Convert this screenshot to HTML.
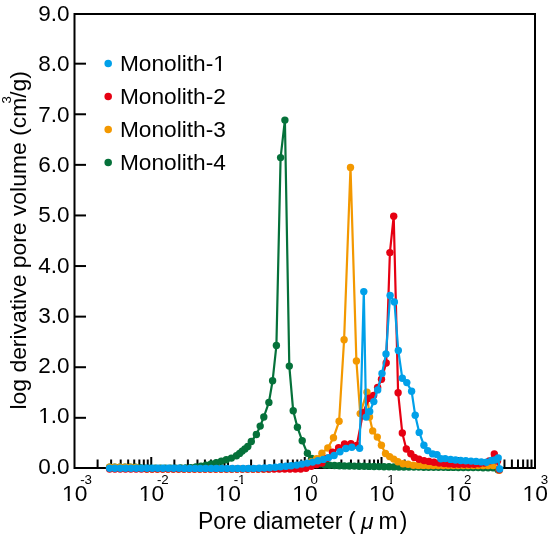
<!DOCTYPE html>
<html><head><meta charset="utf-8"><title>Pore size distribution</title>
<style>html,body{margin:0;padding:0;background:#fff;overflow:hidden}svg{display:block}</style>
</head><body>
<svg width="550" height="536" viewBox="0 0 550 536">
<style>
.t{font-family:"Liberation Sans",Arial,sans-serif;font-size:22.5px;fill:#000}
.ti{font-family:"Liberation Sans",Arial,sans-serif;font-size:23px;fill:#000}
.ty{font-family:"Liberation Sans",Arial,sans-serif;font-size:22.9px;fill:#000}
.tx{font-family:"Liberation Sans",Arial,sans-serif;font-size:22.8px;fill:#000}
.tl{font-family:"Liberation Sans",Arial,sans-serif;font-size:22.7px;fill:#000}
.s{font-family:"Liberation Sans",Arial,sans-serif;font-size:13.3px;fill:#000}
.mu{font-style:italic}
</style>
<rect width="550" height="536" fill="#fff"/>
<rect x="74.5" y="14.0" width="460.5" height="454.0" fill="none" stroke="#000" stroke-width="2"/>
<line x1="74.5" y1="417.81" x2="86.0" y2="417.81" stroke="#000" stroke-width="2"/>
<line x1="74.5" y1="367.22" x2="86.0" y2="367.22" stroke="#000" stroke-width="2"/>
<line x1="74.5" y1="316.63" x2="86.0" y2="316.63" stroke="#000" stroke-width="2"/>
<line x1="74.5" y1="266.04" x2="86.0" y2="266.04" stroke="#000" stroke-width="2"/>
<line x1="74.5" y1="215.45" x2="86.0" y2="215.45" stroke="#000" stroke-width="2"/>
<line x1="74.5" y1="164.86" x2="86.0" y2="164.86" stroke="#000" stroke-width="2"/>
<line x1="74.5" y1="114.27" x2="86.0" y2="114.27" stroke="#000" stroke-width="2"/>
<line x1="74.5" y1="63.68" x2="86.0" y2="63.68" stroke="#000" stroke-width="2"/>
<line x1="97.60" y1="468.0" x2="97.60" y2="459.5" stroke="#000" stroke-width="2"/>
<line x1="111.12" y1="468.0" x2="111.12" y2="459.5" stroke="#000" stroke-width="2"/>
<line x1="120.71" y1="468.0" x2="120.71" y2="459.5" stroke="#000" stroke-width="2"/>
<line x1="128.15" y1="468.0" x2="128.15" y2="459.5" stroke="#000" stroke-width="2"/>
<line x1="134.22" y1="468.0" x2="134.22" y2="459.5" stroke="#000" stroke-width="2"/>
<line x1="139.36" y1="468.0" x2="139.36" y2="459.5" stroke="#000" stroke-width="2"/>
<line x1="143.81" y1="468.0" x2="143.81" y2="459.5" stroke="#000" stroke-width="2"/>
<line x1="147.74" y1="468.0" x2="147.74" y2="459.5" stroke="#000" stroke-width="2"/>
<line x1="151.25" y1="468.0" x2="151.25" y2="457.0" stroke="#000" stroke-width="2"/>
<line x1="174.35" y1="468.0" x2="174.35" y2="459.5" stroke="#000" stroke-width="2"/>
<line x1="187.87" y1="468.0" x2="187.87" y2="459.5" stroke="#000" stroke-width="2"/>
<line x1="197.46" y1="468.0" x2="197.46" y2="459.5" stroke="#000" stroke-width="2"/>
<line x1="204.90" y1="468.0" x2="204.90" y2="459.5" stroke="#000" stroke-width="2"/>
<line x1="210.97" y1="468.0" x2="210.97" y2="459.5" stroke="#000" stroke-width="2"/>
<line x1="216.11" y1="468.0" x2="216.11" y2="459.5" stroke="#000" stroke-width="2"/>
<line x1="220.56" y1="468.0" x2="220.56" y2="459.5" stroke="#000" stroke-width="2"/>
<line x1="224.49" y1="468.0" x2="224.49" y2="459.5" stroke="#000" stroke-width="2"/>
<line x1="228.00" y1="468.0" x2="228.00" y2="457.0" stroke="#000" stroke-width="2"/>
<line x1="251.10" y1="468.0" x2="251.10" y2="459.5" stroke="#000" stroke-width="2"/>
<line x1="264.62" y1="468.0" x2="264.62" y2="459.5" stroke="#000" stroke-width="2"/>
<line x1="274.21" y1="468.0" x2="274.21" y2="459.5" stroke="#000" stroke-width="2"/>
<line x1="281.65" y1="468.0" x2="281.65" y2="459.5" stroke="#000" stroke-width="2"/>
<line x1="287.72" y1="468.0" x2="287.72" y2="459.5" stroke="#000" stroke-width="2"/>
<line x1="292.86" y1="468.0" x2="292.86" y2="459.5" stroke="#000" stroke-width="2"/>
<line x1="297.31" y1="468.0" x2="297.31" y2="459.5" stroke="#000" stroke-width="2"/>
<line x1="301.24" y1="468.0" x2="301.24" y2="459.5" stroke="#000" stroke-width="2"/>
<line x1="304.75" y1="468.0" x2="304.75" y2="457.0" stroke="#000" stroke-width="2"/>
<line x1="327.85" y1="468.0" x2="327.85" y2="459.5" stroke="#000" stroke-width="2"/>
<line x1="341.37" y1="468.0" x2="341.37" y2="459.5" stroke="#000" stroke-width="2"/>
<line x1="350.96" y1="468.0" x2="350.96" y2="459.5" stroke="#000" stroke-width="2"/>
<line x1="358.40" y1="468.0" x2="358.40" y2="459.5" stroke="#000" stroke-width="2"/>
<line x1="364.47" y1="468.0" x2="364.47" y2="459.5" stroke="#000" stroke-width="2"/>
<line x1="369.61" y1="468.0" x2="369.61" y2="459.5" stroke="#000" stroke-width="2"/>
<line x1="374.06" y1="468.0" x2="374.06" y2="459.5" stroke="#000" stroke-width="2"/>
<line x1="377.99" y1="468.0" x2="377.99" y2="459.5" stroke="#000" stroke-width="2"/>
<line x1="381.50" y1="468.0" x2="381.50" y2="457.0" stroke="#000" stroke-width="2"/>
<line x1="404.60" y1="468.0" x2="404.60" y2="459.5" stroke="#000" stroke-width="2"/>
<line x1="418.12" y1="468.0" x2="418.12" y2="459.5" stroke="#000" stroke-width="2"/>
<line x1="427.71" y1="468.0" x2="427.71" y2="459.5" stroke="#000" stroke-width="2"/>
<line x1="435.15" y1="468.0" x2="435.15" y2="459.5" stroke="#000" stroke-width="2"/>
<line x1="441.22" y1="468.0" x2="441.22" y2="459.5" stroke="#000" stroke-width="2"/>
<line x1="446.36" y1="468.0" x2="446.36" y2="459.5" stroke="#000" stroke-width="2"/>
<line x1="450.81" y1="468.0" x2="450.81" y2="459.5" stroke="#000" stroke-width="2"/>
<line x1="454.74" y1="468.0" x2="454.74" y2="459.5" stroke="#000" stroke-width="2"/>
<line x1="458.25" y1="468.0" x2="458.25" y2="457.0" stroke="#000" stroke-width="2"/>
<line x1="481.35" y1="468.0" x2="481.35" y2="459.5" stroke="#000" stroke-width="2"/>
<line x1="494.87" y1="468.0" x2="494.87" y2="459.5" stroke="#000" stroke-width="2"/>
<line x1="504.46" y1="468.0" x2="504.46" y2="459.5" stroke="#000" stroke-width="2"/>
<line x1="511.90" y1="468.0" x2="511.90" y2="459.5" stroke="#000" stroke-width="2"/>
<line x1="517.97" y1="468.0" x2="517.97" y2="459.5" stroke="#000" stroke-width="2"/>
<line x1="523.11" y1="468.0" x2="523.11" y2="459.5" stroke="#000" stroke-width="2"/>
<line x1="527.56" y1="468.0" x2="527.56" y2="459.5" stroke="#000" stroke-width="2"/>
<line x1="531.49" y1="468.0" x2="531.49" y2="459.5" stroke="#000" stroke-width="2"/>
<line x1="535.00" y1="468.0" x2="535.00" y2="457.0" stroke="#000" stroke-width="2"/>
<path d="M109.6,467.2 L114.7,467.2 L119.8,467.2 L124.8,467.3 L129.9,467.3 L135.0,467.3 L140.1,467.8 L145.1,468.2 L150.2,468.2 L155.3,468.2 L160.4,468.1 L165.4,468.1 L170.5,468.1 L175.6,468.1 L180.7,468.0 L185.7,468.0 L190.8,467.6 L195.9,466.9 L201.0,466.3 L206.0,465.1 L211.1,463.9 L216.2,462.7 L221.3,461.2 L226.3,459.7 L231.4,458.1 L236.5,455.8 L239.6,453.4 L242.2,451.1 L244.9,448.9 L247.8,446.5 L251.3,441.5 L256.4,434.5 L260.2,426.1 L263.8,417.0 L268.9,402.4 L272.6,380.8 L276.4,345.5 L280.6,157.6 L284.9,120.1 L289.3,366.1 L293.2,410.8 L297.4,427.2 L302.2,440.8 L307.4,453.3 L311.6,458.5 L316.0,461.8 L320.5,463.8 L325.0,465.0 L329.5,465.2 L334.5,465.5 L339.4,465.8 L344.4,465.9 L349.3,466.0 L354.3,466.1 L359.2,466.2 L364.2,466.3 L369.1,466.4 L374.1,466.5 L379.1,466.6 L384.0,466.7 L389.0,466.8 L393.9,466.9 L398.9,467.0 L403.8,467.0 L408.8,467.1 L413.8,467.1 L418.7,467.1 L423.7,467.2 L428.6,467.2 L433.6,467.3 L438.5,467.3 L443.5,467.3 L448.4,467.4 L453.4,467.4 L458.4,467.5 L463.3,467.5 L468.3,467.5 L473.2,467.6 L478.2,467.6 L483.1,467.7 L488.1,467.7 L493.0,467.7 L498.0,469.8" fill="none" stroke="#05713a" stroke-width="2.2" stroke-linejoin="round"/>
<g fill="#05713a"><circle cx="109.6" cy="467.2" r="3.7"/><circle cx="114.7" cy="467.2" r="3.7"/><circle cx="119.8" cy="467.2" r="3.7"/><circle cx="124.8" cy="467.3" r="3.7"/><circle cx="129.9" cy="467.3" r="3.7"/><circle cx="135.0" cy="467.3" r="3.7"/><circle cx="140.1" cy="467.8" r="3.7"/><circle cx="145.1" cy="468.2" r="3.7"/><circle cx="150.2" cy="468.2" r="3.7"/><circle cx="155.3" cy="468.2" r="3.7"/><circle cx="160.4" cy="468.1" r="3.7"/><circle cx="165.4" cy="468.1" r="3.7"/><circle cx="170.5" cy="468.1" r="3.7"/><circle cx="175.6" cy="468.1" r="3.7"/><circle cx="180.7" cy="468.0" r="3.7"/><circle cx="185.7" cy="468.0" r="3.7"/><circle cx="190.8" cy="467.6" r="3.7"/><circle cx="195.9" cy="466.9" r="3.7"/><circle cx="201.0" cy="466.3" r="3.7"/><circle cx="206.0" cy="465.1" r="3.7"/><circle cx="211.1" cy="463.9" r="3.7"/><circle cx="216.2" cy="462.7" r="3.7"/><circle cx="221.3" cy="461.2" r="3.7"/><circle cx="226.3" cy="459.7" r="3.7"/><circle cx="231.4" cy="458.1" r="3.7"/><circle cx="236.5" cy="455.8" r="3.7"/><circle cx="239.6" cy="453.4" r="3.7"/><circle cx="242.2" cy="451.1" r="3.7"/><circle cx="244.9" cy="448.9" r="3.7"/><circle cx="247.8" cy="446.5" r="3.7"/><circle cx="251.3" cy="441.5" r="3.7"/><circle cx="256.4" cy="434.5" r="3.7"/><circle cx="260.2" cy="426.1" r="3.7"/><circle cx="263.8" cy="417.0" r="3.7"/><circle cx="268.9" cy="402.4" r="3.7"/><circle cx="272.6" cy="380.8" r="3.7"/><circle cx="276.4" cy="345.5" r="3.7"/><circle cx="280.6" cy="157.6" r="3.7"/><circle cx="284.9" cy="120.1" r="3.7"/><circle cx="289.3" cy="366.1" r="3.7"/><circle cx="293.2" cy="410.8" r="3.7"/><circle cx="297.4" cy="427.2" r="3.7"/><circle cx="302.2" cy="440.8" r="3.7"/><circle cx="307.4" cy="453.3" r="3.7"/><circle cx="311.6" cy="458.5" r="3.7"/><circle cx="316.0" cy="461.8" r="3.7"/><circle cx="320.5" cy="463.8" r="3.7"/><circle cx="325.0" cy="465.0" r="3.7"/><circle cx="329.5" cy="465.2" r="3.7"/><circle cx="334.5" cy="465.5" r="3.7"/><circle cx="339.4" cy="465.8" r="3.7"/><circle cx="344.4" cy="465.9" r="3.7"/><circle cx="349.3" cy="466.0" r="3.7"/><circle cx="354.3" cy="466.1" r="3.7"/><circle cx="359.2" cy="466.2" r="3.7"/><circle cx="364.2" cy="466.3" r="3.7"/><circle cx="369.1" cy="466.4" r="3.7"/><circle cx="374.1" cy="466.5" r="3.7"/><circle cx="379.1" cy="466.6" r="3.7"/><circle cx="384.0" cy="466.7" r="3.7"/><circle cx="389.0" cy="466.8" r="3.7"/><circle cx="393.9" cy="466.9" r="3.7"/><circle cx="398.9" cy="467.0" r="3.7"/><circle cx="403.8" cy="467.0" r="3.7"/><circle cx="408.8" cy="467.1" r="3.7"/><circle cx="413.8" cy="467.1" r="3.7"/><circle cx="418.7" cy="467.1" r="3.7"/><circle cx="423.7" cy="467.2" r="3.7"/><circle cx="428.6" cy="467.2" r="3.7"/><circle cx="433.6" cy="467.3" r="3.7"/><circle cx="438.5" cy="467.3" r="3.7"/><circle cx="443.5" cy="467.3" r="3.7"/><circle cx="448.4" cy="467.4" r="3.7"/><circle cx="453.4" cy="467.4" r="3.7"/><circle cx="458.4" cy="467.5" r="3.7"/><circle cx="463.3" cy="467.5" r="3.7"/><circle cx="468.3" cy="467.5" r="3.7"/><circle cx="473.2" cy="467.6" r="3.7"/><circle cx="478.2" cy="467.6" r="3.7"/><circle cx="483.1" cy="467.7" r="3.7"/><circle cx="488.1" cy="467.7" r="3.7"/><circle cx="493.0" cy="467.7" r="3.7"/><circle cx="498.0" cy="469.8" r="3.7"/></g>

<path d="M109.6,467.2 L114.9,467.2 L120.2,467.2 L125.5,467.3 L130.8,467.3 L136.1,467.5 L141.4,468.4 L146.8,469.0 L152.1,469.0 L157.4,469.0 L162.7,469.0 L168.0,469.0 L173.3,469.0 L178.6,469.0 L183.9,469.0 L189.2,469.0 L194.5,469.0 L199.8,469.0 L205.1,469.0 L210.4,469.0 L215.8,469.0 L221.1,469.0 L226.4,469.0 L231.7,469.0 L237.0,469.0 L242.3,469.0 L247.6,469.0 L252.9,469.0 L258.2,469.0 L263.5,469.0 L268.8,469.0 L274.1,468.5 L279.4,467.9 L284.8,467.3 L290.1,466.8 L295.4,466.2 L300.7,465.4 L306.0,463.9 L311.3,461.6 L316.6,458.6 L321.9,453.3 L327.8,448.0 L333.5,437.7 L339.1,421.3 L344.1,339.8 L350.5,167.4 L356.4,360.9 L360.2,413.6 L367.0,392.2 L369.5,417.0 L372.7,430.9 L377.3,437.1 L381.4,445.3 L385.5,453.5 L389.6,456.6 L393.7,459.1 L397.9,461.7 L403.0,463.8 L408.1,464.3 L413.3,465.3 L418.3,465.4 L423.3,465.4 L428.3,465.5 L433.2,465.5 L438.2,465.5 L443.2,465.5 L448.2,465.5 L453.2,465.5 L458.1,465.5 L463.1,465.5 L468.1,465.5 L473.1,465.5 L478.1,465.5 L483.1,465.5 L488.0,465.5 L493.0,465.5 L499.3,470.2" fill="none" stroke="#f39800" stroke-width="2.2" stroke-linejoin="round"/>
<g fill="#f39800"><circle cx="109.6" cy="467.2" r="3.7"/><circle cx="114.9" cy="467.2" r="3.7"/><circle cx="120.2" cy="467.2" r="3.7"/><circle cx="125.5" cy="467.3" r="3.7"/><circle cx="130.8" cy="467.3" r="3.7"/><circle cx="136.1" cy="467.5" r="3.7"/><circle cx="141.4" cy="468.4" r="3.7"/><circle cx="146.8" cy="469.0" r="3.7"/><circle cx="152.1" cy="469.0" r="3.7"/><circle cx="157.4" cy="469.0" r="3.7"/><circle cx="162.7" cy="469.0" r="3.7"/><circle cx="168.0" cy="469.0" r="3.7"/><circle cx="173.3" cy="469.0" r="3.7"/><circle cx="178.6" cy="469.0" r="3.7"/><circle cx="183.9" cy="469.0" r="3.7"/><circle cx="189.2" cy="469.0" r="3.7"/><circle cx="194.5" cy="469.0" r="3.7"/><circle cx="199.8" cy="469.0" r="3.7"/><circle cx="205.1" cy="469.0" r="3.7"/><circle cx="210.4" cy="469.0" r="3.7"/><circle cx="215.8" cy="469.0" r="3.7"/><circle cx="221.1" cy="469.0" r="3.7"/><circle cx="226.4" cy="469.0" r="3.7"/><circle cx="231.7" cy="469.0" r="3.7"/><circle cx="237.0" cy="469.0" r="3.7"/><circle cx="242.3" cy="469.0" r="3.7"/><circle cx="247.6" cy="469.0" r="3.7"/><circle cx="252.9" cy="469.0" r="3.7"/><circle cx="258.2" cy="469.0" r="3.7"/><circle cx="263.5" cy="469.0" r="3.7"/><circle cx="268.8" cy="469.0" r="3.7"/><circle cx="274.1" cy="468.5" r="3.7"/><circle cx="279.4" cy="467.9" r="3.7"/><circle cx="284.8" cy="467.3" r="3.7"/><circle cx="290.1" cy="466.8" r="3.7"/><circle cx="295.4" cy="466.2" r="3.7"/><circle cx="300.7" cy="465.4" r="3.7"/><circle cx="306.0" cy="463.9" r="3.7"/><circle cx="311.3" cy="461.6" r="3.7"/><circle cx="316.6" cy="458.6" r="3.7"/><circle cx="321.9" cy="453.3" r="3.7"/><circle cx="327.8" cy="448.0" r="3.7"/><circle cx="333.5" cy="437.7" r="3.7"/><circle cx="339.1" cy="421.3" r="3.7"/><circle cx="344.1" cy="339.8" r="3.7"/><circle cx="350.5" cy="167.4" r="3.7"/><circle cx="356.4" cy="360.9" r="3.7"/><circle cx="360.2" cy="413.6" r="3.7"/><circle cx="367.0" cy="392.2" r="3.7"/><circle cx="369.5" cy="417.0" r="3.7"/><circle cx="372.7" cy="430.9" r="3.7"/><circle cx="377.3" cy="437.1" r="3.7"/><circle cx="381.4" cy="445.3" r="3.7"/><circle cx="385.5" cy="453.5" r="3.7"/><circle cx="389.6" cy="456.6" r="3.7"/><circle cx="393.7" cy="459.1" r="3.7"/><circle cx="397.9" cy="461.7" r="3.7"/><circle cx="403.0" cy="463.8" r="3.7"/><circle cx="408.1" cy="464.3" r="3.7"/><circle cx="413.3" cy="465.3" r="3.7"/><circle cx="418.3" cy="465.4" r="3.7"/><circle cx="423.3" cy="465.4" r="3.7"/><circle cx="428.3" cy="465.5" r="3.7"/><circle cx="433.2" cy="465.5" r="3.7"/><circle cx="438.2" cy="465.5" r="3.7"/><circle cx="443.2" cy="465.5" r="3.7"/><circle cx="448.2" cy="465.5" r="3.7"/><circle cx="453.2" cy="465.5" r="3.7"/><circle cx="458.1" cy="465.5" r="3.7"/><circle cx="463.1" cy="465.5" r="3.7"/><circle cx="468.1" cy="465.5" r="3.7"/><circle cx="473.1" cy="465.5" r="3.7"/><circle cx="478.1" cy="465.5" r="3.7"/><circle cx="483.1" cy="465.5" r="3.7"/><circle cx="488.0" cy="465.5" r="3.7"/><circle cx="493.0" cy="465.5" r="3.7"/><circle cx="499.3" cy="470.2" r="3.7"/></g>

<path d="M109.6,469.0 L114.9,469.0 L120.2,469.0 L125.5,469.0 L130.8,469.0 L136.1,469.0 L141.4,469.0 L146.8,469.0 L152.1,469.0 L157.4,469.0 L162.7,469.0 L168.0,469.0 L173.3,469.0 L178.6,469.0 L183.9,469.0 L189.2,469.0 L194.5,469.0 L199.8,469.0 L205.1,469.0 L210.4,469.0 L215.7,469.0 L221.1,469.0 L226.4,469.0 L231.7,469.0 L237.0,469.0 L242.3,469.0 L247.6,469.0 L252.9,469.0 L258.2,469.0 L263.5,469.0 L268.8,469.0 L274.1,469.0 L279.4,469.0 L284.7,469.0 L290.0,469.0 L295.4,469.0 L300.7,469.0 L306.0,468.3 L311.3,466.2 L316.6,464.5 L321.9,463.0 L327.2,458.3 L332.5,452.3 L338.6,447.7 L344.5,444.0 L350.9,443.6 L356.8,445.5 L363.0,412.7 L369.3,398.3 L373.6,395.5 L377.6,387.5 L381.5,379.3 L386.2,363.0 L389.9,252.6 L393.7,216.2 L398.1,392.7 L402.3,433.0 L406.3,449.0 L410.8,453.8 L414.4,457.4 L419.0,459.3 L424.0,460.6 L429.0,461.4 L434.0,462.2 L439.1,463.1 L444.1,463.5 L449.1,463.9 L454.1,464.2 L459.1,464.3 L464.2,464.3 L469.2,464.3 L474.2,464.3 L479.2,463.7 L484.3,463.1 L489.3,460.9 L494.3,454.0 L497.5,461.0 L499.3,469.8" fill="none" stroke="#e60012" stroke-width="2.2" stroke-linejoin="round"/>
<g fill="#e60012"><circle cx="109.6" cy="469.0" r="3.7"/><circle cx="114.9" cy="469.0" r="3.7"/><circle cx="120.2" cy="469.0" r="3.7"/><circle cx="125.5" cy="469.0" r="3.7"/><circle cx="130.8" cy="469.0" r="3.7"/><circle cx="136.1" cy="469.0" r="3.7"/><circle cx="141.4" cy="469.0" r="3.7"/><circle cx="146.8" cy="469.0" r="3.7"/><circle cx="152.1" cy="469.0" r="3.7"/><circle cx="157.4" cy="469.0" r="3.7"/><circle cx="162.7" cy="469.0" r="3.7"/><circle cx="168.0" cy="469.0" r="3.7"/><circle cx="173.3" cy="469.0" r="3.7"/><circle cx="178.6" cy="469.0" r="3.7"/><circle cx="183.9" cy="469.0" r="3.7"/><circle cx="189.2" cy="469.0" r="3.7"/><circle cx="194.5" cy="469.0" r="3.7"/><circle cx="199.8" cy="469.0" r="3.7"/><circle cx="205.1" cy="469.0" r="3.7"/><circle cx="210.4" cy="469.0" r="3.7"/><circle cx="215.7" cy="469.0" r="3.7"/><circle cx="221.1" cy="469.0" r="3.7"/><circle cx="226.4" cy="469.0" r="3.7"/><circle cx="231.7" cy="469.0" r="3.7"/><circle cx="237.0" cy="469.0" r="3.7"/><circle cx="242.3" cy="469.0" r="3.7"/><circle cx="247.6" cy="469.0" r="3.7"/><circle cx="252.9" cy="469.0" r="3.7"/><circle cx="258.2" cy="469.0" r="3.7"/><circle cx="263.5" cy="469.0" r="3.7"/><circle cx="268.8" cy="469.0" r="3.7"/><circle cx="274.1" cy="469.0" r="3.7"/><circle cx="279.4" cy="469.0" r="3.7"/><circle cx="284.7" cy="469.0" r="3.7"/><circle cx="290.0" cy="469.0" r="3.7"/><circle cx="295.4" cy="469.0" r="3.7"/><circle cx="300.7" cy="469.0" r="3.7"/><circle cx="306.0" cy="468.3" r="3.7"/><circle cx="311.3" cy="466.2" r="3.7"/><circle cx="316.6" cy="464.5" r="3.7"/><circle cx="321.9" cy="463.0" r="3.7"/><circle cx="327.2" cy="458.3" r="3.7"/><circle cx="332.5" cy="452.3" r="3.7"/><circle cx="338.6" cy="447.7" r="3.7"/><circle cx="344.5" cy="444.0" r="3.7"/><circle cx="350.9" cy="443.6" r="3.7"/><circle cx="356.8" cy="445.5" r="3.7"/><circle cx="363.0" cy="412.7" r="3.7"/><circle cx="369.3" cy="398.3" r="3.7"/><circle cx="373.6" cy="395.5" r="3.7"/><circle cx="377.6" cy="387.5" r="3.7"/><circle cx="381.5" cy="379.3" r="3.7"/><circle cx="386.2" cy="363.0" r="3.7"/><circle cx="389.9" cy="252.6" r="3.7"/><circle cx="393.7" cy="216.2" r="3.7"/><circle cx="398.1" cy="392.7" r="3.7"/><circle cx="402.3" cy="433.0" r="3.7"/><circle cx="406.3" cy="449.0" r="3.7"/><circle cx="410.8" cy="453.8" r="3.7"/><circle cx="414.4" cy="457.4" r="3.7"/><circle cx="419.0" cy="459.3" r="3.7"/><circle cx="424.0" cy="460.6" r="3.7"/><circle cx="429.0" cy="461.4" r="3.7"/><circle cx="434.0" cy="462.2" r="3.7"/><circle cx="439.1" cy="463.1" r="3.7"/><circle cx="444.1" cy="463.5" r="3.7"/><circle cx="449.1" cy="463.9" r="3.7"/><circle cx="454.1" cy="464.2" r="3.7"/><circle cx="459.1" cy="464.3" r="3.7"/><circle cx="464.2" cy="464.3" r="3.7"/><circle cx="469.2" cy="464.3" r="3.7"/><circle cx="474.2" cy="464.3" r="3.7"/><circle cx="479.2" cy="463.7" r="3.7"/><circle cx="484.3" cy="463.1" r="3.7"/><circle cx="489.3" cy="460.9" r="3.7"/><circle cx="494.3" cy="454.0" r="3.7"/><circle cx="497.5" cy="461.0" r="3.7"/><circle cx="499.3" cy="469.8" r="3.7"/></g>

<path d="M109.6,468.2 L114.9,468.2 L120.3,468.2 L125.6,468.2 L131.0,468.2 L136.3,468.3 L141.6,468.3 L147.0,468.3 L152.3,468.3 L157.7,468.3 L163.0,468.3 L168.4,468.3 L173.7,468.3 L179.0,468.3 L184.4,468.4 L189.7,468.4 L195.1,468.4 L200.4,468.4 L205.7,468.4 L211.1,468.4 L216.4,468.4 L221.8,468.4 L227.1,468.5 L232.5,468.5 L237.8,468.5 L243.1,468.5 L248.5,468.5 L253.8,468.4 L259.2,468.2 L264.5,468.0 L269.8,467.8 L275.2,467.3 L280.5,466.8 L285.9,466.3 L291.2,465.8 L296.6,465.1 L301.9,464.1 L307.2,463.1 L312.6,462.1 L317.9,460.8 L323.3,459.4 L328.6,457.6 L334.1,455.5 L340.0,451.8 L345.9,448.5 L351.8,447.3 L359.6,448.3 L363.8,291.6 L366.1,417.1 L369.7,411.5 L373.8,401.6 L377.7,389.9 L382.0,373.4 L386.0,353.9 L390.1,295.5 L394.4,301.9 L398.3,350.5 L402.3,378.3 L406.8,382.6 L411.6,391.2 L415.2,415.3 L419.2,432.4 L423.9,445.2 L427.7,450.6 L432.6,453.9 L437.0,454.6 L440.8,458.8 L445.2,458.6 L450.6,459.4 L455.5,460.0 L460.7,460.5 L465.8,460.8 L471.0,461.1 L476.1,461.4 L481.3,461.9 L486.4,462.3 L491.6,460.5 L495.0,460.0 L498.2,458.0 L499.7,469.0" fill="none" stroke="#00a0e9" stroke-width="2.2" stroke-linejoin="round"/>
<g fill="#00a0e9"><circle cx="109.6" cy="468.2" r="3.7"/><circle cx="114.9" cy="468.2" r="3.7"/><circle cx="120.3" cy="468.2" r="3.7"/><circle cx="125.6" cy="468.2" r="3.7"/><circle cx="131.0" cy="468.2" r="3.7"/><circle cx="136.3" cy="468.3" r="3.7"/><circle cx="141.6" cy="468.3" r="3.7"/><circle cx="147.0" cy="468.3" r="3.7"/><circle cx="152.3" cy="468.3" r="3.7"/><circle cx="157.7" cy="468.3" r="3.7"/><circle cx="163.0" cy="468.3" r="3.7"/><circle cx="168.4" cy="468.3" r="3.7"/><circle cx="173.7" cy="468.3" r="3.7"/><circle cx="179.0" cy="468.3" r="3.7"/><circle cx="184.4" cy="468.4" r="3.7"/><circle cx="189.7" cy="468.4" r="3.7"/><circle cx="195.1" cy="468.4" r="3.7"/><circle cx="200.4" cy="468.4" r="3.7"/><circle cx="205.7" cy="468.4" r="3.7"/><circle cx="211.1" cy="468.4" r="3.7"/><circle cx="216.4" cy="468.4" r="3.7"/><circle cx="221.8" cy="468.4" r="3.7"/><circle cx="227.1" cy="468.5" r="3.7"/><circle cx="232.5" cy="468.5" r="3.7"/><circle cx="237.8" cy="468.5" r="3.7"/><circle cx="243.1" cy="468.5" r="3.7"/><circle cx="248.5" cy="468.5" r="3.7"/><circle cx="253.8" cy="468.4" r="3.7"/><circle cx="259.2" cy="468.2" r="3.7"/><circle cx="264.5" cy="468.0" r="3.7"/><circle cx="269.8" cy="467.8" r="3.7"/><circle cx="275.2" cy="467.3" r="3.7"/><circle cx="280.5" cy="466.8" r="3.7"/><circle cx="285.9" cy="466.3" r="3.7"/><circle cx="291.2" cy="465.8" r="3.7"/><circle cx="296.6" cy="465.1" r="3.7"/><circle cx="301.9" cy="464.1" r="3.7"/><circle cx="307.2" cy="463.1" r="3.7"/><circle cx="312.6" cy="462.1" r="3.7"/><circle cx="317.9" cy="460.8" r="3.7"/><circle cx="323.3" cy="459.4" r="3.7"/><circle cx="328.6" cy="457.6" r="3.7"/><circle cx="334.1" cy="455.5" r="3.7"/><circle cx="340.0" cy="451.8" r="3.7"/><circle cx="345.9" cy="448.5" r="3.7"/><circle cx="351.8" cy="447.3" r="3.7"/><circle cx="359.6" cy="448.3" r="3.7"/><circle cx="363.8" cy="291.6" r="3.7"/><circle cx="366.1" cy="417.1" r="3.7"/><circle cx="369.7" cy="411.5" r="3.7"/><circle cx="373.8" cy="401.6" r="3.7"/><circle cx="377.7" cy="389.9" r="3.7"/><circle cx="382.0" cy="373.4" r="3.7"/><circle cx="386.0" cy="353.9" r="3.7"/><circle cx="390.1" cy="295.5" r="3.7"/><circle cx="394.4" cy="301.9" r="3.7"/><circle cx="398.3" cy="350.5" r="3.7"/><circle cx="402.3" cy="378.3" r="3.7"/><circle cx="406.8" cy="382.6" r="3.7"/><circle cx="411.6" cy="391.2" r="3.7"/><circle cx="415.2" cy="415.3" r="3.7"/><circle cx="419.2" cy="432.4" r="3.7"/><circle cx="423.9" cy="445.2" r="3.7"/><circle cx="427.7" cy="450.6" r="3.7"/><circle cx="432.6" cy="453.9" r="3.7"/><circle cx="437.0" cy="454.6" r="3.7"/><circle cx="440.8" cy="458.8" r="3.7"/><circle cx="445.2" cy="458.6" r="3.7"/><circle cx="450.6" cy="459.4" r="3.7"/><circle cx="455.5" cy="460.0" r="3.7"/><circle cx="460.7" cy="460.5" r="3.7"/><circle cx="465.8" cy="460.8" r="3.7"/><circle cx="471.0" cy="461.1" r="3.7"/><circle cx="476.1" cy="461.4" r="3.7"/><circle cx="481.3" cy="461.9" r="3.7"/><circle cx="486.4" cy="462.3" r="3.7"/><circle cx="491.6" cy="460.5" r="3.7"/><circle cx="495.0" cy="460.0" r="3.7"/><circle cx="498.2" cy="458.0" r="3.7"/><circle cx="499.7" cy="469.0" r="3.7"/></g>

<mask id="m1" maskUnits="userSpaceOnUse" x="0" y="0" width="550" height="536"><rect width="550" height="536" fill="#fff"/><rect x="38.82" y="421.02" width="5.10" height="3.58" fill="#000"/><rect x="46.02" y="421.02" width="4.87" height="3.58" fill="#000"/><rect x="62.53" y="498.50" width="5.17" height="3.60" fill="#000"/><rect x="69.82" y="498.50" width="4.93" height="3.60" fill="#000"/><rect x="139.23" y="498.50" width="5.17" height="3.60" fill="#000"/><rect x="146.52" y="498.50" width="4.93" height="3.60" fill="#000"/><rect x="216.03" y="498.50" width="5.17" height="3.60" fill="#000"/><rect x="223.32" y="498.50" width="4.93" height="3.60" fill="#000"/><rect x="238.42" y="482.00" width="2.58" height="3.00" fill="#000" shape-rendering="crispEdges"/><rect x="243.00" y="482.00" width="2.52" height="3.00" fill="#000" shape-rendering="crispEdges"/><rect x="292.73" y="498.50" width="5.17" height="3.60" fill="#000"/><rect x="300.02" y="498.50" width="4.93" height="3.60" fill="#000"/><rect x="369.53" y="498.50" width="5.17" height="3.60" fill="#000"/><rect x="376.82" y="498.50" width="4.93" height="3.60" fill="#000"/><rect x="387.50" y="482.00" width="2.50" height="3.00" fill="#000" shape-rendering="crispEdges"/><rect x="392.00" y="482.00" width="2.60" height="3.00" fill="#000" shape-rendering="crispEdges"/><rect x="446.23" y="498.50" width="5.17" height="3.60" fill="#000"/><rect x="453.52" y="498.50" width="4.93" height="3.60" fill="#000"/><rect x="523.03" y="498.50" width="5.17" height="3.60" fill="#000"/><rect x="530.32" y="498.50" width="4.93" height="3.60" fill="#000"/><rect x="213.70" y="68.50" width="5.15" height="3.60" fill="#000"/><rect x="220.95" y="68.50" width="4.91" height="3.60" fill="#000"/></mask>
<g mask="url(#m1)">
<text x="69.6" y="473.6" text-anchor="end" class="t">0.0</text>
<text x="69.6" y="423.3" text-anchor="end" class="t">1.0</text>
<text x="69.6" y="373.1" text-anchor="end" class="t">2.0</text>
<text x="69.6" y="322.8" text-anchor="end" class="t">3.0</text>
<text x="69.6" y="272.5" text-anchor="end" class="t">4.0</text>
<text x="69.6" y="222.2" text-anchor="end" class="t">5.0</text>
<text x="69.6" y="172.0" text-anchor="end" class="t">6.0</text>
<text x="69.6" y="121.7" text-anchor="end" class="t">7.0</text>
<text x="69.6" y="71.4" text-anchor="end" class="t">8.0</text>
<text x="69.6" y="21.2" text-anchor="end" class="t">9.0</text>
<text x="74.7" y="500.8" text-anchor="middle" class="tx">10</text>
<text x="80.2" y="483.8" class="s">-3</text>
<text x="151.4" y="500.8" text-anchor="middle" class="tx">10</text>
<text x="156.9" y="483.8" class="s">-2</text>
<text x="228.2" y="500.8" text-anchor="middle" class="tx">10</text>
<text x="233.7" y="483.8" class="s">-1</text>
<text x="304.9" y="500.8" text-anchor="middle" class="tx">10</text>
<text x="310.4" y="483.8" class="s">0</text>
<text x="381.7" y="500.8" text-anchor="middle" class="tx">10</text>
<text x="387.2" y="483.8" class="s">1</text>
<text x="458.4" y="500.8" text-anchor="middle" class="tx">10</text>
<text x="463.9" y="483.8" class="s">2</text>
<text x="535.2" y="500.8" text-anchor="middle" class="tx">10</text>
<text x="540.7" y="483.8" class="s">3</text>
<circle cx="108.2" cy="63.5" r="3.75" fill="#00a0e9"/>
<text transform="translate(119.9,70.8) scale(1,0.95)" class="tl">Monolith-1</text>
<circle cx="108.2" cy="96.5" r="3.75" fill="#e60012"/>
<text transform="translate(119.9,103.8) scale(1,0.95)" class="tl">Monolith-2</text>
<circle cx="108.2" cy="129.6" r="3.75" fill="#f39800"/>
<text transform="translate(119.9,136.9) scale(1,0.95)" class="tl">Monolith-3</text>
<circle cx="108.2" cy="162.6" r="3.75" fill="#05713a"/>
<text transform="translate(119.9,169.9) scale(1,0.95)" class="tl">Monolith-4</text>
</g>
<g transform="translate(0,528.6)"><text y="0" class="ti"><tspan x="198.01">Pore diameter</tspan><tspan x="348.07">(</tspan><tspan x="360.88" class="mu">μ</tspan><tspan x="378.47">m</tspan><tspan x="399.67">)</tspan></text></g>
<text transform="translate(26.3,409.5) rotate(-90) scale(1,0.96)" class="ty">log derivative pore volume (cm/g)</text>
<text transform="translate(11.0,103.6) rotate(-90) scale(1,0.95)" class="s">3</text>
</svg>
</body></html>
